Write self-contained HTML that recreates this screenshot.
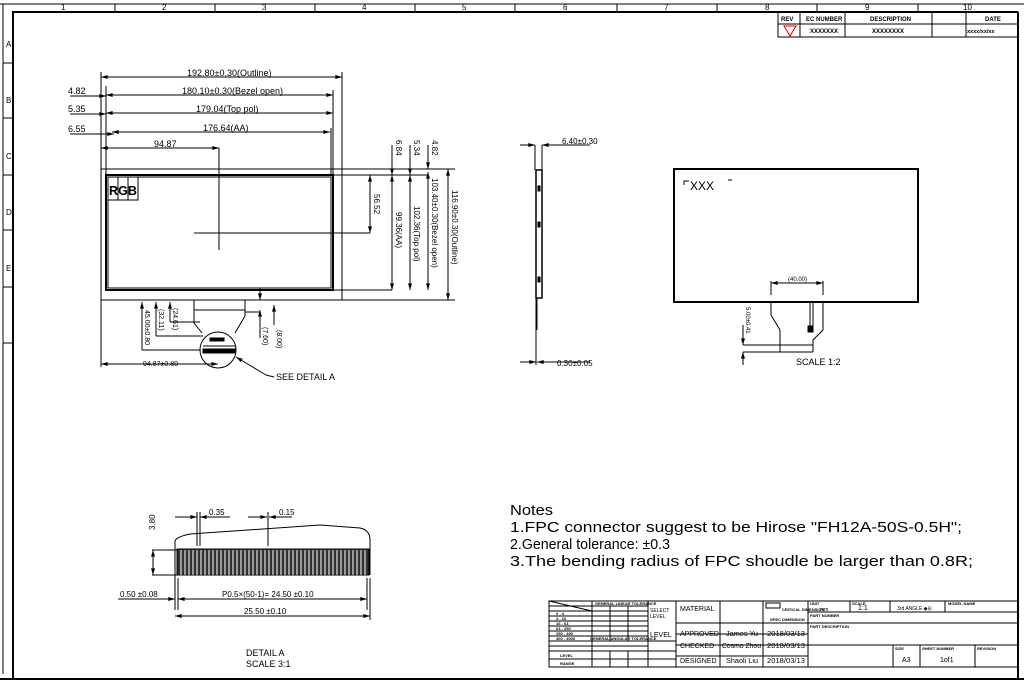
<!DOCTYPE html>
<html><head><meta charset="utf-8"><style>
html,body{margin:0;padding:0;background:#fff;}
svg{display:block;}
text{font-family:"Liberation Sans",sans-serif;fill:#000;}
.t{font-family:"Liberation Sans Narrow","Liberation Sans",sans-serif;}
</style></head><body>
<svg width="1024" height="683" viewBox="0 0 1024 683" xmlns="http://www.w3.org/2000/svg">
<defs>
<marker id="a" viewBox="0 0 10 6" refX="10" refY="3" markerWidth="8" markerHeight="4" orient="auto-start-reverse"><path d="M0,0L10,3L0,6z" fill="#000"/></marker>
</defs>
<g stroke="#000" fill="none">
<line x1="0" y1="4" x2="1024" y2="4" stroke-width="1"/>
<line x1="12" y1="12" x2="1018" y2="12" stroke-width="2"/>
<line x1="3" y1="4" x2="3" y2="674" stroke-width="1"/>
<line x1="13" y1="12" x2="13" y2="678" stroke-width="2"/>
<line x1="1018" y1="12" x2="1018" y2="678" stroke-width="2"/>
<line x1="0" y1="679" x2="1024" y2="679" stroke-width="2"/>
<g stroke-width="1">
<line x1="115" y1="4" x2="115" y2="12"/><line x1="215" y1="4" x2="215" y2="12"/><line x1="315" y1="4" x2="315" y2="12"/><line x1="415" y1="4" x2="415" y2="12"/><line x1="515" y1="4" x2="515" y2="12"/><line x1="617" y1="4" x2="617" y2="12"/><line x1="717" y1="4" x2="717" y2="12"/><line x1="817" y1="4" x2="817" y2="12"/><line x1="918" y1="4" x2="918" y2="12"/>
<line x1="3" y1="63" x2="13" y2="63"/><line x1="3" y1="118" x2="13" y2="118"/><line x1="3" y1="175" x2="13" y2="175"/><line x1="3" y1="230" x2="13" y2="230"/><line x1="3" y1="287" x2="13" y2="287"/><line x1="3" y1="343" x2="13" y2="343"/>
</g>
<g stroke-width="1">
<rect x="778" y="12" width="240" height="25"/>
<line x1="778" y1="24" x2="1018" y2="24"/>
<line x1="800" y1="12" x2="800" y2="37"/><line x1="845" y1="12" x2="845" y2="37"/><line x1="932" y1="12" x2="932" y2="37"/><line x1="966" y1="12" x2="966" y2="37"/>
</g>
<path d="M784,26L796,26L790,36z" stroke="#e00" stroke-width="1"/>

<g stroke-width="1">
<line x1="101" y1="72" x2="101" y2="367"/>
<line x1="342" y1="72" x2="342" y2="300"/>
<line x1="101" y1="169" x2="455" y2="169"/>
<line x1="101" y1="300" x2="455" y2="300"/>
</g>
<rect x="106" y="175" width="227" height="115" stroke-width="2"/>
<rect x="108" y="177" width="223" height="111" stroke-width="1"/>
<line x1="333" y1="290" x2="392" y2="290" stroke-width="1"/>
<line x1="333" y1="175" x2="428" y2="175" stroke-width="1"/>
<line x1="106" y1="86" x2="106" y2="175" stroke-width="1"/>
<line x1="333" y1="90" x2="333" y2="175" stroke-width="1"/>
<line x1="331" y1="128" x2="331" y2="175" stroke-width="1"/>
<rect x="108" y="177" width="30" height="23" stroke-width="1"/>
<line x1="118" y1="177" x2="118" y2="200"/><line x1="128" y1="177" x2="128" y2="200"/>
<g stroke-width="1" marker-start="url(#a)" marker-end="url(#a)">
<line x1="101" y1="77" x2="342" y2="77"/>
<line x1="106" y1="95" x2="333" y2="95"/>
<line x1="106" y1="113" x2="333" y2="113"/>
<line x1="112" y1="132" x2="330" y2="132"/>
<line x1="101" y1="148" x2="219" y2="148"/>
<line x1="370" y1="175" x2="370" y2="233"/>
<line x1="392" y1="175" x2="392" y2="290"/>
<line x1="410" y1="175" x2="410" y2="290"/>
<line x1="428" y1="172" x2="428" y2="290"/>
<line x1="448" y1="169" x2="448" y2="300"/>
<line x1="101" y1="364" x2="218" y2="364"/>
</g>
<line x1="219" y1="148" x2="219" y2="250" stroke-width="1"/>
<line x1="194" y1="233" x2="370" y2="233" stroke-width="1"/>
<g stroke-width="1" marker-end="url(#a)">
<line x1="70" y1="96" x2="106" y2="96"/><line x1="70" y1="114" x2="106" y2="114"/><line x1="70" y1="134" x2="114" y2="134"/>
<line x1="392" y1="145" x2="392" y2="175"/><line x1="410" y1="145" x2="410" y2="175"/><line x1="428" y1="145" x2="428" y2="169"/>
<line x1="260" y1="288" x2="260" y2="300"/>
<line x1="142" y1="320" x2="142" y2="302"/><line x1="156" y1="320" x2="156" y2="302"/><line x1="170" y1="320" x2="170" y2="302"/>
<line x1="260" y1="325" x2="260" y2="310"/><line x1="274" y1="325" x2="274" y2="305"/>
<line x1="266" y1="375" x2="236" y2="357"/>
</g>
<line x1="392" y1="175" x2="392" y2="192"/>
<line x1="142" y1="320" x2="142" y2="350"/><line x1="156" y1="320" x2="156" y2="336"/><line x1="170" y1="320" x2="170" y2="322"/>
<line x1="142" y1="350" x2="200" y2="350" stroke-width="1"/>
<line x1="156" y1="336" x2="203" y2="336"/><line x1="170" y1="322" x2="200" y2="322"/>
<line x1="260" y1="325" x2="260" y2="338"/><line x1="245" y1="312" x2="260" y2="312"/>
<line x1="266" y1="375" x2="274" y2="377"/>
<path d="M194,300L194,323L202,333M245,300L245,316L235,333" stroke-width="1"/>
<line x1="194" y1="310" x2="245" y2="310"/>
<circle cx="218" cy="350" r="18" stroke-width="1"/>
<rect x="210" y="338" width="14" height="3" fill="#000"/>
<rect x="203" y="349" width="32" height="4" fill="#000"/>
<line x1="203" y1="346" x2="235" y2="346"/>

<rect x="536" y="170" width="6" height="128" stroke-width="1.5"/>
<line x1="535" y1="145" x2="535" y2="170"/><line x1="542" y1="145" x2="542" y2="170"/>
<line x1="536" y1="298" x2="536" y2="365"/>
<line x1="537" y1="298" x2="537" y2="330" stroke-width="1"/>
<line x1="520" y1="145" x2="535" y2="145" marker-end="url(#a)"/>
<line x1="560" y1="145" x2="542" y2="145" marker-end="url(#a)"/>
<line x1="542" y1="145" x2="590" y2="145"/>
<line x1="520" y1="362" x2="536" y2="362" marker-end="url(#a)"/>
<line x1="548" y1="362" x2="537" y2="362" marker-end="url(#a)"/>
<line x1="537" y1="362" x2="590" y2="362"/>
<rect x="538" y="186" width="2" height="5" fill="#000"/><rect x="538" y="222" width="2" height="5" fill="#000"/><rect x="538" y="277" width="2" height="5" fill="#000"/>

<rect x="674" y="169" width="244" height="133" stroke-width="2"/>
<line x1="771" y1="281" x2="771" y2="295"/><line x1="823" y1="281" x2="823" y2="295"/>
<line x1="771" y1="283" x2="823" y2="283" marker-start="url(#a)" marker-end="url(#a)"/>
<path d="M771,302L771,315L780,330L780,352M823,302L823,330L813,340L813,352" stroke-width="1"/>
<line x1="810" y1="302" x2="810" y2="326"/><line x1="813" y1="302" x2="813" y2="326"/>
<rect x="808" y="326" width="5" height="6" fill="#000"/>
<line x1="743" y1="345" x2="813" y2="345"/><line x1="743" y1="352" x2="813" y2="352"/>
<line x1="743" y1="325" x2="743" y2="345" marker-end="url(#a)"/><line x1="743" y1="365" x2="743" y2="352" marker-end="url(#a)"/>
<path d="M684,185L684,181L689,181M728,180L732,180"/>

<path d="M175,541Q176,537 190,534L320,525L360,528Q370,530 370,540L370,575" stroke-width="1"/>
<line x1="175" y1="541" x2="175" y2="610"/>
<rect x="177" y="549" width="192" height="26" fill="#333" stroke-width="1"/>
<g stroke="#fff" stroke-width="1">
<path d="M181,550V575M185,550V575M189,550V575M193,550V575M197,550V575M201,550V575M205,550V575M209,550V575M213,550V575M217,550V575M221,550V575M225,550V575M229,550V575M233,550V575M237,550V575M241,550V575M245,550V575M249,550V575M253,550V575M257,550V575M261,550V575M265,550V575M269,550V575M273,550V575M277,550V575M281,550V575M285,550V575M289,550V575M293,550V575M297,550V575M301,550V575M305,550V575M309,550V575M313,550V575M317,550V575M321,550V575M325,550V575M329,550V575M333,550V575M337,550V575M341,550V575M345,550V575M349,550V575M353,550V575M357,550V575M361,550V575M365,550V575"/>
</g>
<line x1="197" y1="512" x2="197" y2="546"/><line x1="200" y1="512" x2="200" y2="546"/>
<line x1="175" y1="517" x2="197" y2="517" marker-end="url(#a)"/><line x1="220" y1="517" x2="200" y2="517" marker-end="url(#a)"/>
<line x1="200" y1="517" x2="230" y2="517"/>
<line x1="268" y1="512" x2="268" y2="546"/>
<line x1="248" y1="517" x2="267" y2="517" marker-end="url(#a)"/><line x1="290" y1="517" x2="269" y2="517" marker-end="url(#a)"/>
<line x1="269" y1="517" x2="292" y2="517"/>
<line x1="152" y1="550" x2="177" y2="550"/><line x1="152" y1="575" x2="177" y2="575"/>
<line x1="153" y1="550" x2="153" y2="575" marker-start="url(#a)" marker-end="url(#a)"/>
<line x1="178" y1="578" x2="178" y2="610"/><line x1="367" y1="578" x2="367" y2="610"/><line x1="370" y1="578" x2="370" y2="620"/>
<line x1="118" y1="599" x2="175" y2="599" marker-end="url(#a)"/>
<line x1="178" y1="599" x2="367" y2="599" marker-start="url(#a)" marker-end="url(#a)"/>
<line x1="175" y1="616" x2="370" y2="616" marker-start="url(#a)" marker-end="url(#a)"/>

<g stroke-width="1">
<rect x="549" y="601" width="469" height="66"/>
<line x1="676" y1="601" x2="676" y2="667"/><line x1="720" y1="601" x2="720" y2="667"/><line x1="763" y1="601" x2="763" y2="667"/><line x1="808" y1="601" x2="808" y2="667"/>
<line x1="676" y1="623" x2="808" y2="623"/><line x1="676" y1="645" x2="1018" y2="645"/><line x1="676" y1="656" x2="808" y2="656"/>
<line x1="676" y1="634" x2="808" y2="634"/>
<line x1="808" y1="612" x2="1018" y2="612"/><line x1="808" y1="623" x2="1018" y2="623"/>
<line x1="850" y1="601" x2="850" y2="612"/><line x1="890" y1="601" x2="890" y2="612"/><line x1="945" y1="601" x2="945" y2="612"/>
<line x1="893" y1="645" x2="893" y2="667"/><line x1="920" y1="645" x2="920" y2="667"/><line x1="975" y1="645" x2="975" y2="667"/>
<line x1="549" y1="606" x2="648" y2="606"/><line x1="549" y1="611" x2="648" y2="611"/><line x1="549" y1="616" x2="648" y2="616"/><line x1="549" y1="621" x2="648" y2="621"/><line x1="549" y1="626" x2="648" y2="626"/><line x1="549" y1="631" x2="648" y2="631"/><line x1="549" y1="636" x2="648" y2="636"/><line x1="549" y1="641" x2="676" y2="641"/><line x1="549" y1="646" x2="648" y2="646"/><line x1="549" y1="651" x2="676" y2="651"/><line x1="549" y1="659" x2="676" y2="659"/>
<line x1="592" y1="601" x2="592" y2="667"/><line x1="610" y1="606" x2="610" y2="641"/><line x1="628" y1="606" x2="628" y2="641"/><line x1="648" y1="601" x2="648" y2="667"/>
<line x1="610" y1="651" x2="610" y2="667"/><line x1="628" y1="651" x2="628" y2="667"/>
<line x1="549" y1="601" x2="592" y2="611"/>
<rect x="766" y="603" width="14" height="5"/>
</g>
</g>

<g font-size="8" class="t">
<text x="61" y="10">1</text><text x="162" y="10">2</text><text x="262" y="10">3</text><text x="362" y="10">4</text><text x="462" y="10">5</text><text x="563" y="10">6</text><text x="664" y="10">7</text><text x="765" y="10">8</text><text x="865" y="10">9</text><text x="963" y="10">10</text>
<text x="6" y="47">A</text><text x="6" y="103">B</text><text x="6" y="159">C</text><text x="6" y="215">D</text><text x="6" y="271">E</text>
</g>
<text x="109" y="195" font-size="13" font-weight="bold" textLength="28" lengthAdjust="spacingAndGlyphs">RGB</text>
<g font-size="6" class="t" font-weight="bold">
<text x="781" y="21">REV</text><text x="806" y="21">EC NUMBER</text><text x="870" y="21">DESCRIPTION</text><text x="985" y="21">DATE</text>
<text x="810" y="33">XXXXXXX</text><text x="872" y="33">XXXXXXXX</text><text x="967" y="33" font-size="5.5">xxxx/xx/xx</text>
</g>
<g font-size="9" class="t">
<text x="187" y="76">192.80±0.30(Outline)</text>
<text x="182" y="94">180.10±0.30(Bezel open)</text>
<text x="196" y="112">179.04(Top pol)</text>
<text x="203" y="131">176.64(AA)</text>
<text x="154" y="147">94.87</text>
<text x="68" y="94">4.82</text><text x="68" y="112">5.35</text><text x="68" y="132">6.55</text>
<text x="143" y="366" font-size="7">94.87±0.80</text>
<text x="276" y="380">SEE DETAIL  A</text>
<text x="562" y="144" font-size="8">6.40±0.30</text>
<text x="557" y="366" font-size="8">0.30±0.05</text>
<text x="788" y="281" font-size="6">(40.00)</text>
<text x="796" y="365">SCALE  1:2</text>
<text x="690" y="190" font-size="12">XXX</text>
<text x="209" y="515" font-size="8">0.35</text>
<text x="279" y="515" font-size="8">0.15</text>
<text x="120" y="597" font-size="8">0.50  ±0.08</text>
<text x="222" y="597" font-size="8">P0.5×(50-1)=   24.50  ±0.10</text>
<text x="244" y="614" font-size="8">25.50  ±0.10</text>
<text x="246" y="656">DETAIL  A</text>
<text x="246" y="667">SCALE  3:1</text>
</g>
<g font-size="8" class="t">
<text transform="translate(396,140) rotate(90)">6.84</text>
<text transform="translate(414,140) rotate(90)">5.34</text>
<text transform="translate(432,140) rotate(90)">4.82</text>
<text transform="translate(374,194) rotate(90)">56.52</text>
<text transform="translate(396,212) rotate(90)">99.36(AA)</text>
<text transform="translate(414,206) rotate(90)">102.36(Top pol)</text>
<text transform="translate(432,178) rotate(90)">103.40±0.30(Bezel open)</text>
<text transform="translate(452,190) rotate(90)">116.90±0.30(Outline)</text>
<text transform="translate(145,310) rotate(90)" font-size="7">45.00±0.80</text>
<text transform="translate(159,309) rotate(90)" font-size="7">(32.11)</text>
<text transform="translate(173,308) rotate(90)" font-size="7">(24.61)</text>
<text transform="translate(263,327) rotate(90)" font-size="7">(7.60)</text>
<text transform="translate(277,330) rotate(90)" font-size="7">(8.00)</text>
<text transform="translate(746,307) rotate(90)" font-size="6">5.00±0.41</text>
<text transform="translate(155,530) rotate(-90)" font-size="8">3.80</text>
</g>
<g font-size="15" class="t">
<text x="510" y="515" textLength="43" lengthAdjust="spacingAndGlyphs">Notes</text>
<text x="510" y="532" textLength="452" lengthAdjust="spacingAndGlyphs">1.FPC connector suggest to be Hirose "FH12A-50S-0.5H";</text>
<text x="510" y="549" textLength="160" lengthAdjust="spacingAndGlyphs">2.General tolerance: ±0.3</text>
<text x="510" y="566" textLength="463" lengthAdjust="spacingAndGlyphs">3.The bending radius of FPC shoudle be larger than 0.8R;</text>
</g>
<g font-size="7" class="t">
<text x="680" y="611">MATERIAL</text>
<text x="680" y="636">APPROVED</text><text x="680" y="648">CHECKED</text><text x="680" y="663">DESIGNED</text>
<text x="726" y="636" textLength="32" lengthAdjust="spacingAndGlyphs">James Yu</text><text x="722" y="648" textLength="39" lengthAdjust="spacingAndGlyphs">Cosmo Zhou</text><text x="726" y="663" textLength="32" lengthAdjust="spacingAndGlyphs">Shaoli Liu</text>
<text x="767" y="636" textLength="38" lengthAdjust="spacingAndGlyphs">2018/03/13</text><text x="767" y="648" textLength="38" lengthAdjust="spacingAndGlyphs">2018/03/13</text><text x="767" y="663" textLength="38" lengthAdjust="spacingAndGlyphs">2018/03/13</text>
<text x="650" y="612" font-size="5">SELECT</text><text x="650" y="618" font-size="5">LEVEL</text>
<text x="650" y="637">LEVEL</text>
<text x="858" y="610">1:1</text><text x="897" y="610" font-size="5">3rd ANGLE  ◆⊟</text>
<text x="902" y="662">A3</text><text x="940" y="662">1of1</text>
<text x="820" y="611" font-size="5">mm</text>
</g>
<g font-size="4" class="t" font-weight="bold">
<text x="810" y="605">UNIT</text><text x="852" y="605">SCALE</text><text x="948" y="605">MODEL NAME</text>
<text x="810" y="617">PART NUMBER</text><text x="810" y="628">PART DESCRIPTION</text>
<text x="895" y="650">SIZE</text><text x="922" y="650">SHEET NUMBER</text><text x="977" y="650">REVISION</text>
<text x="782" y="611">CRITICAL DIMENSION</text><text x="770" y="621">SPEC DIMENSION</text>
<text x="595" y="605">GENERAL LINEAR TOLERANCE</text><text x="590" y="640">GENERAL ANGULAR TOLERANCE</text>
<text x="560" y="657">LEVEL</text><text x="560" y="665">RANGE</text>
<text x="556" y="615">0 - 4</text><text x="556" y="620">4 - 16</text><text x="556" y="625">16 - 63</text><text x="556" y="630">63 - 250</text><text x="556" y="635">250 - 400</text><text x="556" y="640">400 - 4000</text>
</g>
</svg>
</body></html>
